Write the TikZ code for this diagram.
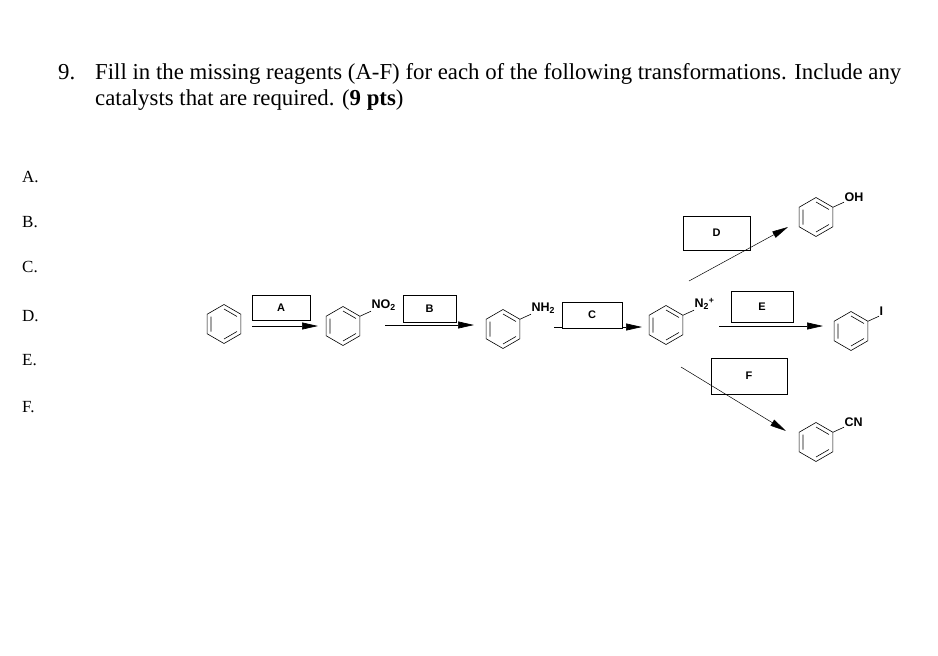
\documentclass[tikz,border=0pt]{standalone}
\usepackage{fontspec}
\setmainfont{Liberation Serif}
\newfontfamily\serifA{Liberation Serif}
\newfontfamily\arialF{Liberation Sans}
\usetikzlibrary{arrows.meta,calc}
\tikzset{
  rbox/.style={draw=black,line width=0.8pt,fill=white,inner sep=0pt,font=\arialF\bfseries\fontsize{11}{12}\selectfont},
  rx/.style={-{Triangle[length=16pt,width=7pt]},line width=0.7pt},
  sub/.style={font=\arialF\bfseries\fontsize{12.5}{14}\selectfont,inner sep=0.5pt},
  lett/.style={font=\serifA\fontsize{17}{20}\selectfont,anchor=west,inner sep=0pt},
}
\newcommand{\benz}[2]{%
  \begin{scope}[shift={(#1)},line width=0.6pt]
    \draw (90:19.5)--(150:19.5)--(210:19.5)--(270:19.5)--(330:19.5)--(30:19.5)--cycle;
    \draw (150:15)--(210:15) (270:15)--(330:15) (30:15)--(90:15);
    \coordinate (#2) at (330:19.5);
  \end{scope}}
\begin{document}
\begin{tikzpicture}[x=1pt,y=-1pt]
\useasboundingbox (0,0) rectangle (938,656);
\node[anchor=base west,inner sep=0pt,font=\fontsize{22.8}{26}\selectfont] (num) at (58,79) {9.};
\node[anchor=base west,inner sep=0pt,font=\fontsize{22.8}{26}\selectfont] (q1) at (95,79)
 {Fill in the missing reagents (A-F) for each of the following transformations. Include any};
\node[anchor=base west,inner sep=0pt,font=\fontsize{22.8}{26}\selectfont] (q2) at (95,105)
 {catalysts that are required. (\textbf{9 pts})};
\node[lett] (la) at (22,177) {A.};
\node[lett] (lb) at (22,222) {B.};
\node[lett] (lc) at (22,267) {C.};
\node[lett] (ld) at (22,316) {D.};
\node[lett] (le) at (22,360) {E.};
\node[lett] (lf) at (22,407) {F.};
% benzenes
\benz{224,324}{b1}
\benz{343,326}{b2}
\benz{503,329}{b3}
\benz{666,325}{b4}
\benz{816,217}{b5}
\benz{851,331}{b6}
\benz{816,442}{b7}
\node[sub,anchor=south west] (no2) at ($(b2)+(11,-5)$) {NO\textsubscript{2}};
\draw[line width=0.6pt] (b2) -- (no2.south west);
\node[sub,anchor=south west] (nh2) at ($(b3)+(11,-5)$) {NH\textsubscript{2}};
\draw[line width=0.6pt] (b3) -- (nh2.south west);
\node[sub,anchor=south west] (n2) at ($(b4)+(11,-5)$) {N\textsubscript{2}\textsuperscript{+}};
\draw[line width=0.6pt] (b4) -- (n2.south west);
\node[sub,anchor=south west] (oh) at ($(b5)+(11,-5)$) {OH};
\draw[line width=0.6pt] (b5) -- (oh.south west);
\node[sub,anchor=south west] (io) at ($(b6)+(11,-5)$) {I};
\draw[line width=0.6pt] (b6) -- (io.south west);
\node[sub,anchor=south west] (cn) at ($(b7)+(11,-5)$) {CN};
\draw[line width=0.6pt] (b7) -- (cn.south west);
% arrows
\coordinate (a1) at (252,326); \coordinate (a2) at (318,326);
\coordinate (bb1) at (385,325); \coordinate (bb2) at (474,325);
\coordinate (c1) at (554,327); \coordinate (c2) at (642,327);
\coordinate (d1) at (689,281); \coordinate (d2) at (788,227);
\coordinate (e1) at (719,326); \coordinate (e2) at (823,326);
\coordinate (f1) at (681,367); \coordinate (f2) at (786,431);
\draw[rx] (a1)--(a2);
\draw[rx] (bb1)--(bb2);
\draw[rx] (c1)--(c2);
\draw[rx,line width=0.5pt] (d1)--(d2);
\draw[rx] (e1)--(e2);
\draw[rx,line width=0.5pt] (f1)--(f2);
% boxes
\node[rbox,minimum width=58pt,minimum height=25pt] (bA) at (281,307.5) {A};
\node[rbox,minimum width=53pt,minimum height=27pt] (bB) at (429.5,308.5) {B};
\node[rbox,minimum width=60pt,minimum height=26pt] (bC) at (592,315) {C};
\node[rbox,fill=none,minimum width=67pt,minimum height=34pt] (bD) at (716.5,233) {D};
\node[rbox,minimum width=62pt,minimum height=31pt] (bE) at (762,306.5) {E};
\node[rbox,fill=none,minimum width=76pt,minimum height=36pt] (bF) at (749,376) {F};
\end{tikzpicture}
\end{document}
